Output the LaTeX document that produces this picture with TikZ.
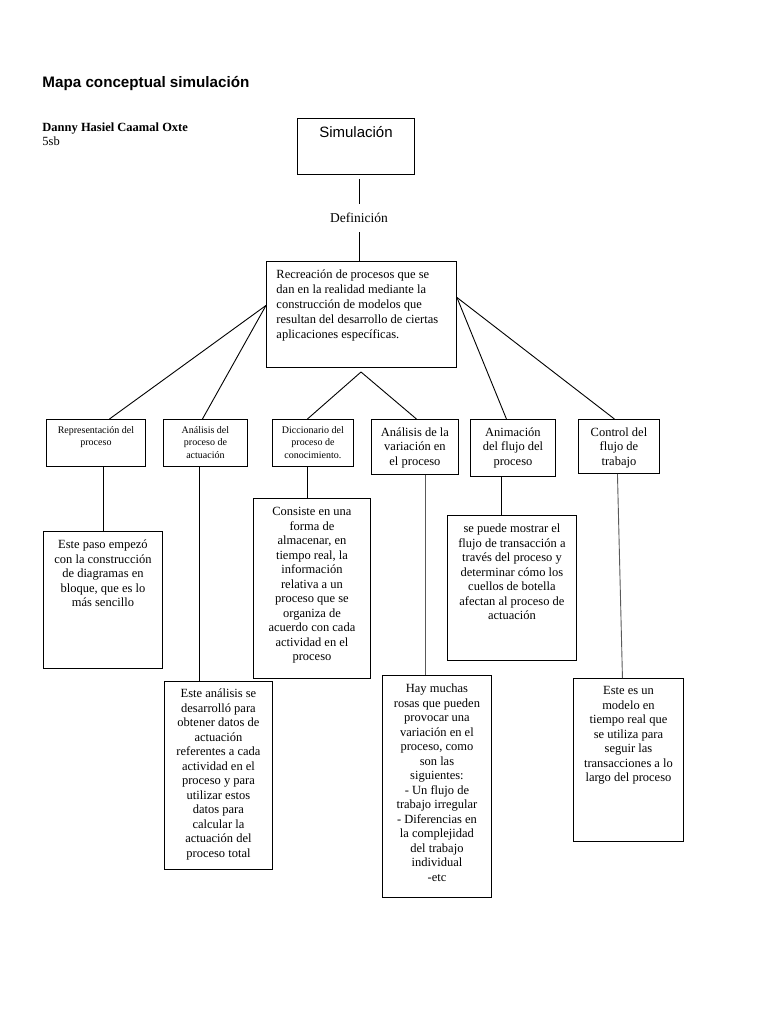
\documentclass[tikz,border=0pt]{standalone}
\usepackage{fontspec}
\setmainfont{Liberation Serif}
\setsansfont{Liberation Sans}
\usetikzlibrary{positioning}

% text box with fixed size, text at the top
\newcommand{\caja}[4][7pt]{\parbox[c][#3][t]{#2}{\vspace*{#1}\centering\strut #4}}

\begin{document}
\begin{tikzpicture}[x=1pt, y=-1pt, line width=0.9pt,
    cuadro/.style={draw, inner sep=0pt, anchor=north west},
    grande/.style={font=\fontsize{12.5}{14.5}\selectfont},
    chica/.style={font=\fontsize{10}{12.5}\selectfont}]
    \useasboundingbox (0,0) rectangle (768,1024);

    \node[anchor=base west, inner sep=0pt, font=\sffamily\bfseries\fontsize{15.2}{17}\selectfont] (titulo) at (42,88) {Mapa conceptual simulación};
    \node[anchor=base west, inner sep=0pt, align=left, font=\fontsize{12.5}{14}\selectfont] (autor) at (42,146) {\textbf{Danny Hasiel Caamal Oxte}\\5sb};

    \node[cuadro, font=\sffamily\fontsize{15}{18}\selectfont] (sim) at (297,118) {\caja[6pt]{117pt}{56pt}{Simulación}};
    \node[minimum height=28pt, inner sep=0pt, font=\fontsize{13.5}{16}\selectfont] (def) at (359,218) {Definición};
    \node[cuadro, inner xsep=10pt, font=\fontsize{12.5}{15}\selectfont] (main) at (266,261)
      {\parbox[c][106pt][t]{170pt}{\vspace*{6.5pt}\raggedright\strut Recreación de procesos que se\\dan en la realidad mediante la\\construcción de modelos que\\resultan del desarrollo de ciertas\\aplicaciones específicas.}};
    \coordinate (apex) at (361,372);

    % first row
    \node[cuadro, chica] (rep) at (46,419) {\caja[5pt]{99pt}{47pt}{Representación del\\proceso}};
    \node[cuadro, chica] (anaAct) at (163,419) {\caja[5pt]{84pt}{47pt}{Análisis del\\proceso de\\actuación}};
    \node[cuadro, chica] (dic) at (272,419) {\caja[5pt]{81pt}{47pt}{Diccionario del\\proceso de\\conocimiento.}};
    \node[cuadro, grande] (var) at (371,419) {\caja[6.5pt]{87pt}{55pt}{Análisis de la\\variación en\\el proceso}};
    \node[cuadro, grande] (anim) at (470,419) {\caja[6.5pt]{85pt}{57pt}{Animación\\del flujo del\\proceso}};
    \node[cuadro, grande] (ctrl) at (578,419) {\caja[6.5pt]{81pt}{54pt}{Control del\\flujo de\\trabajo}};

    % second row
    \node[cuadro, grande] (paso) at (43,531) {\caja{119pt}{137pt}{Este paso empezó\\con la construcción\\de diagramas en\\bloque, que es lo\\más sencillo}};
    \node[cuadro, grande] (consiste) at (253,498) {\caja{117pt}{180pt}{Consiste en una\\forma de\\almacenar, en\\tiempo real, la\\información\\relativa a un\\proceso que se\\organiza de\\acuerdo con cada\\actividad en el\\proceso}};
    \node[cuadro, grande] (puede) at (447,515) {\caja{129pt}{145pt}{se puede mostrar el\\flujo de transacción a\\través del proceso y\\determinar cómo los\\cuellos de botella\\afectan al proceso de\\actuación}};
    \node[cuadro, grande] (analisis) at (164,681) {\caja[6pt]{108pt}{188pt}{Este análisis se\\desarrolló para\\obtener datos de\\actuación\\referentes a cada\\actividad en el\\proceso y para\\utilizar estos\\datos para\\calcular la\\actuación del\\proceso total}};
    \node[cuadro, grande] (rosas) at (382,675) {\caja{109pt}{222pt}{Hay muchas\\rosas que pueden\\provocar una\\variación en el\\proceso, como\\son las\\siguientes:\\- Un flujo de\\trabajo irregular\\- Diferencias en\\la complejidad\\del trabajo\\individual\\-etc}};
    \node[cuadro, grande] (modelo) at (573,678) {\caja[6pt]{110pt}{163pt}{Este es un\\modelo en\\tiempo real que\\se utiliza para\\seguir las\\transacciones a lo\\largo del proceso}};

    \draw[shorten <=4pt] (sim.south -| def.north) -- (def.north);
    \draw (def.south) -- (def.south |- main.north);
    \draw ([yshift=9pt]main.west) -- ([xshift=13.5pt]rep.north);
    \draw ([yshift=9pt]main.west) -- ([xshift=-3pt]anaAct.north);
    \draw (apex) -- ([xshift=-5.5pt]dic.north);
    \draw (apex) -- ([xshift=1.5pt]var.north);
    \draw ([yshift=17pt]main.east) -- ([xshift=-6.5pt]anim.north);
    \draw ([yshift=17pt]main.east) -- ([xshift=-4.5pt]ctrl.north);

    \draw (paso.north |- rep.south) -- (paso.north);
    \draw ([xshift=-6pt]anaAct.south) -- ([xshift=-6pt]anaAct.south |- analisis.north);
    \draw ([xshift=-5.5pt]dic.south) -- ([xshift=-5.5pt]dic.south |- consiste.north);
    \draw[black!65] ([xshift=10pt]var.south) -- ([xshift=10pt]var.south |- rosas.north);
    \draw ([xshift=-11.5pt]anim.south) -- ([xshift=-11.5pt]anim.south |- puede.north);
    \draw[black!65] ([xshift=-1.5pt]ctrl.south) -- ([xshift=-6pt]modelo.north);
\end{tikzpicture}
\end{document}
